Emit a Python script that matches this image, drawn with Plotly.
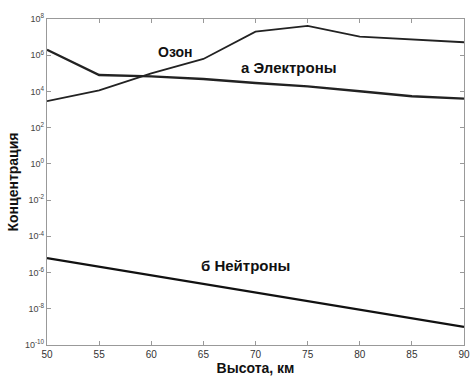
import plotly.graph_objects as go

heights = [50, 55, 60, 65, 70, 75, 80, 85, 90]
ozone = [2.9e3, 1.15e4, 1.0e5, 6.2e5, 2.0e7, 4.2e7, 1.07e7, 7.6e6, 5.2e6]
electrons = [2.0e6, 8.1e4, 6.8e4, 4.9e4, 2.95e4, 1.9e4, 1.02e4, 5.4e3, 4.0e3]
neutrons = [6.3e-6, 2.1e-6, 7.0e-7, 2.4e-7, 8.0e-8, 2.7e-8, 9.0e-9, 3.0e-9, 1.0e-9]

y_tickvals = [1e8, 1e6, 1e4, 1e2, 1e0, 1e-2, 1e-4, 1e-6, 1e-8, 1e-10]
y_ticktext = ["10<sup>8</sup>", "10<sup>6</sup>", "10<sup>4</sup>", "10<sup>2</sup>", "10<sup>0</sup>",
              "10<sup>-2</sup>", "10<sup>-4</sup>", "10<sup>-6</sup>", "10<sup>-8</sup>", "10<sup>-10</sup>"]
x_tickvals = [50, 55, 60, 65, 70, 75, 80, 85, 90]

fig = go.Figure()
fig.add_trace(go.Scatter(x=heights, y=ozone, mode="lines", line=dict(color="#222", width=1.8)))
fig.add_trace(go.Scatter(x=heights, y=electrons, mode="lines", line=dict(color="#222", width=2.4)))
fig.add_trace(go.Scatter(x=heights, y=neutrons, mode="lines", line=dict(color="#111", width=2.4)))

font_b = "Liberation Sans"
fig.add_annotation(x=62.3, y=6.2, text="<b>Озон</b>", showarrow=False, xref="x", yref="y",
                   font=dict(family=font_b, size=14, color="#111"))
fig.add_annotation(x=73.2, y=5.3, text="<b>а Электроны</b>", showarrow=False, xref="x", yref="y",
                   font=dict(family=font_b, size=15, color="#111"))
fig.add_annotation(x=69.0, y=-5.6, text="<b>б Нейтроны</b>", showarrow=False, xref="x", yref="y",
                   font=dict(family=font_b, size=15, color="#111"))

fig.update_layout(
    width=474, height=382,
    margin=dict(l=47, r=10, t=19, b=37),
    paper_bgcolor="white", plot_bgcolor="white",
    showlegend=False,
    font=dict(family="Liberation Sans", color="#333"),
)
fig.update_xaxes(
    range=[50, 90], tickvals=x_tickvals, ticks="inside", ticklen=4, tickcolor="#999",
    showline=True, linecolor="#999", linewidth=1.2, mirror="ticks", showgrid=False, zeroline=False,
    tickfont=dict(size=10, color="#333"),
    title=dict(text="<b>Высота, км</b>", font=dict(size=14, color="#111"), standoff=3),
    automargin=False,
)
fig.update_yaxes(
    type="log", range=[-10, 8], tickvals=y_tickvals, ticktext=y_ticktext,
    ticks="inside", ticklen=4, tickcolor="#999",
    showline=True, linecolor="#999", linewidth=1.2, mirror="ticks", showgrid=False, zeroline=False,
    tickfont=dict(size=9, color="#444"),
    title=dict(text="<b>Концентрация</b>", font=dict(size=14, color="#111"), standoff=3),
    automargin=False,
)
fig.write_html("out.html", config={"displayModeBar": False},
               post_script="document.body.style.margin='0';")
